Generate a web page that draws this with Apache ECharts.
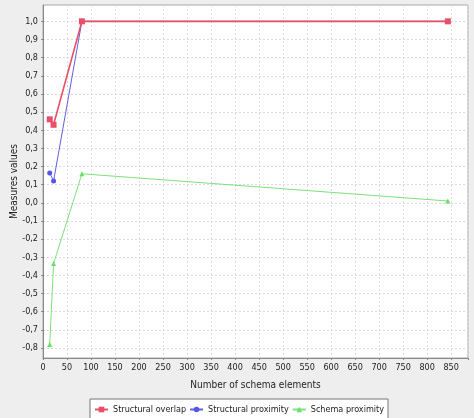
<!DOCTYPE html>
<html>
<head>
<meta charset="utf-8">
<script src="https://cdn.jsdelivr.net/npm/echarts@6/dist/echarts.min.js"></script>
<style>
html,body{margin:0;padding:0;background:#eeeeee;}
#chart{width:474px;height:418px;}
</style>
</head>
<body>
<div id="chart"></div>
<script>
var seriesNames = ['Structural overlap', 'Structural proximity', 'Schema proximity'];
var xElements = [14, 22, 81, 843];
var overlapValues = [0.46, 0.43, 1.0, 1.0];
var proximityValues = [0.165, 0.12, 1.0, 1.0];
var schemaValues = [-0.78, -0.335, 0.16, 0.01];
var yTicks = [-0.8, -0.7, -0.6, -0.5, -0.4, -0.3, -0.2, -0.1, 0, 0.1, 0.2, 0.3, 0.4, 0.5, 0.6, 0.7, 0.8, 0.9, 1.0];

var toPairs = function(xs, ys){
	var out = [];
	for (var i = 0; i < xs.length; i++) {
		out.push([xs[i], ys[i]]);
	}
	return out;
};

var narrowFont = "'DejaVu Sans Condensed', 'Liberation Sans Narrow', 'DejaVu Sans', sans-serif";

var myChart = echarts.init(document.getElementById('chart'));
var option = {
	backgroundColor: '#eeeeee',
	animation: false,
	grid: {
		left: 43, top: 5, right: 6, bottom: 60,
		outerBoundsMode: 'none',
		containLabel: false,
		show: true,
		backgroundColor: '#ffffff',
		borderColor: '#aaaaaa',
		borderWidth: 1
	},
	legend: {
		data: seriesNames,
		bottom: -6,
		left: 90,
		itemGap: 3,
		itemWidth: 13,
		itemHeight: 7,
		padding: [6, 4, 10, 4],
		borderColor: '#777777',
		borderWidth: 1,
		backgroundColor: '#ffffff',
		textStyle: { fontFamily: narrowFont, fontSize: 9, color: '#222' }
	},
	xAxis: {
		type: 'value',
		min: 0,
		max: 885,
		interval: 50,
		name: 'Number of schema elements',
		nameLocation: 'middle',
		nameGap: 22,
		nameMoveOverlap: false,
		nameTextStyle: { fontFamily: narrowFont, fontSize: 10, color: '#222' },
		axisLine: { show: true, onZero: false, lineStyle: { color: '#888888' } },
		axisTick: { show: true, length: 2, lineStyle: { color: '#888888' } },
		axisLabel: {
			fontFamily: narrowFont, fontSize: 9, color: '#222', margin: 5,
			formatter: function(v){ return v > 860 ? '' : v; }
		},
		splitLine: { show: true, lineStyle: { color: '#dadada', type: [2, 2], width: 1 } }
	},
	yAxis: {
		type: 'value',
		min: -0.855,
		max: 1.09,
		name: 'Measures values',
		nameLocation: 'middle',
		nameRotate: 90,
		nameGap: 24,
		nameMoveOverlap: false,
		nameTextStyle: { fontFamily: narrowFont, fontSize: 10, color: '#222' },
		axisLine: { show: true, onZero: false, lineStyle: { color: '#888888' } },
		axisTick: { show: true, length: 2, customValues: yTicks, lineStyle: { color: '#888888' } },
		axisLabel: {
			fontFamily: narrowFont, fontSize: 9, color: '#222', margin: 5,
			customValues: yTicks,
			formatter: function(v){ return v.toFixed(1).replace('.', ','); }
		},
		splitLine: { show: true, lineStyle: { color: '#dadada', type: [2, 2], width: 1 } }
	},
	series: [
		{
			name: seriesNames[1],
			type: 'line',
			data: toPairs(xElements, proximityValues),
			symbol: 'circle',
			symbolSize: 5,
			z: 2,
			itemStyle: { color: '#5555ee' },
			lineStyle: { width: 1, color: '#6060e0' }
		},
		{
			name: seriesNames[2],
			type: 'line',
			data: toPairs(xElements, schemaValues),
			symbol: 'triangle',
			symbolSize: 5,
			z: 2,
			itemStyle: { color: '#66e066' },
			lineStyle: { width: 1, color: '#7ee07e' }
		},
		{
			name: seriesNames[0],
			type: 'line',
			data: toPairs(xElements, overlapValues),
			symbol: 'rect',
			symbolSize: 6,
			z: 3,
			itemStyle: { color: '#e8506a' },
			lineStyle: { width: 1.6, color: '#e8506a' }
		}
	]
};
myChart.setOption(option);
</script>
</body>
</html>
